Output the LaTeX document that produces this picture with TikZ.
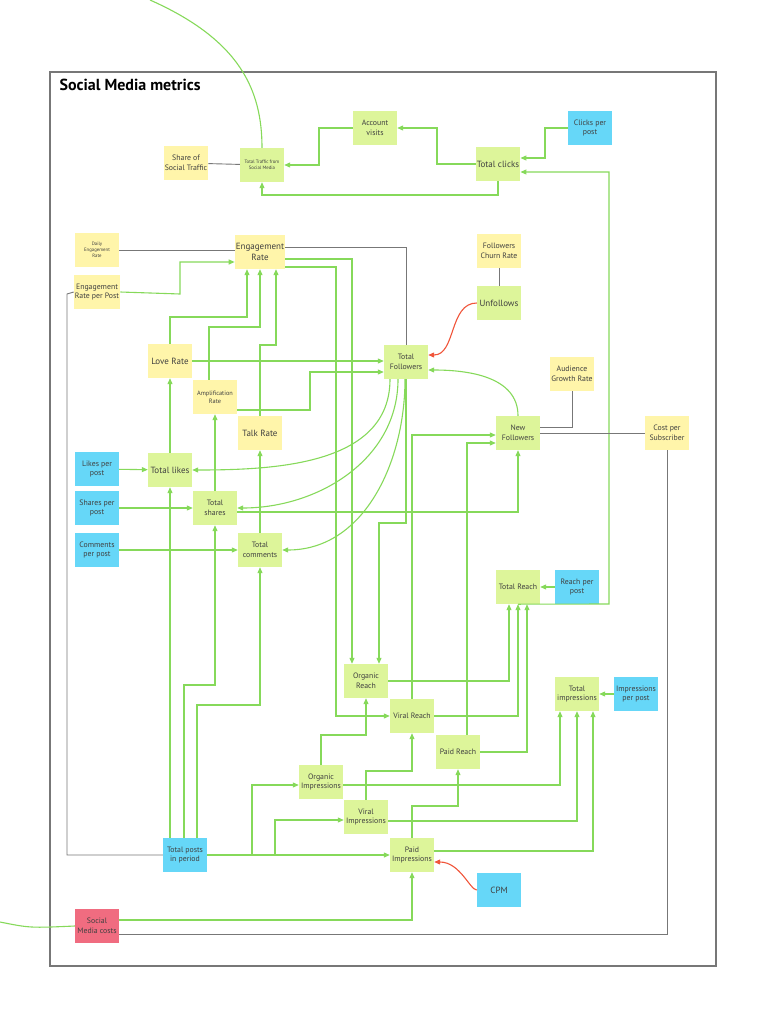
\documentclass[tikz,border=0pt]{standalone}
\usepackage{fontspec}
\setmainfont{PT Sans}
\usetikzlibrary{arrows.meta}
\definecolor{bg}{HTML}{DDF59A}
\definecolor{by}{HTML}{FFF5AA}
\definecolor{bb}{HTML}{66D7F8}
\definecolor{br}{HTML}{F06C80}
\definecolor{lg}{HTML}{86D95A}
\definecolor{lr}{HTML}{F0553A}
\definecolor{gl}{HTML}{777777}
\begin{document}
\begin{tikzpicture}[x=1pt,y=-1pt,
 box/.style={minimum width=44pt,minimum height=34pt,inner sep=1pt,align=center,font=\fontsize{7.8}{9.5}\selectfont,text=black!75},
 G/.style={box,fill=bg},Y/.style={box,fill=by},B/.style={box,fill=bb},R/.style={box,fill=br},
 big/.style={font=\fontsize{9}{11}\selectfont},
 tiny/.style={font=\fontsize{4.8}{6}\selectfont},
 g/.style={draw=lg,line width=1.1pt},
 ga/.style={g,-{Triangle[length=6pt,width=5pt]}},
 gr/.style={draw=gl,line width=0.9pt},
 ra/.style={draw=lr,line width=1.1pt,-{Triangle[length=6pt,width=5pt]}}]
\useasboundingbox (0,0) rectangle (768,1024);
\draw[gl,line width=1.2pt] (50,966) -- (50,72) -- (716,72) -- (716,966) -- cycle;
\node[anchor=west,font=\bfseries\fontsize{16}{18}\selectfont] (title) at (56,85) {Social Media metrics};
% nodes
\node[G] (av) at (375,128) {Account\\visits};
\node[B] (cpp) at (590,128) {Clicks per\\post};
\node[Y] (sst) at (186,163) {Share of\\Social Traffic};
\node[G,tiny] (ttf) at (262,165) {Total Traffic from\\Social Media};
\node[G,big] (tc) at (498,164) {Total clicks};
\node[Y,tiny] (der) at (97,250) {Daily\\Engagement\\Rate};
\node[Y,big] (er) at (260,252) {Engagement\\Rate};
\node[Y] (fcr) at (499,251) {Followers\\Churn Rate};
\node[Y] (erpp) at (97,292) {Engagement\\Rate per Post};
\node[G,big] (uf) at (499,303) {Unfollows};
\node[Y,big] (lvr) at (170,361) {Love Rate};
\node[G] (tf) at (406,362) {Total\\Followers};
\node[Y] (agr) at (572,374) {Audience\\Growth Rate};
\node[Y,font=\fontsize{6.3}{7.8}\selectfont] (ar) at (215,397) {Amplification\\Rate};
\node[Y,big] (talk) at (260,433) {Talk Rate};
\node[G] (nf) at (518,433) {New\\Followers};
\node[Y] (cps) at (667,433) {Cost per\\Subscriber};
\node[B] (lpp) at (97,469) {Likes per\\post};
\node[G,big] (tl) at (170,470) {Total likes};
\node[B] (spp) at (97,508) {Shares per\\post};
\node[G] (ts) at (215,508) {Total\\shares};
\node[B] (cmpp) at (97,550) {Comments\\per post};
\node[G] (tcm) at (260,550) {Total\\comments};
\node[G] (tr) at (518,587) {Total Reach};
\node[B] (rpp) at (577,587) {Reach per\\post};
\node[G] (or) at (366,681) {Organic\\Reach};
\node[G] (ti) at (577,694) {Total\\impressions};
\node[B] (ipp) at (636,694) {Impressions\\per post};
\node[G] (vr) at (412,716) {Viral Reach};
\node[G] (pr) at (458,752) {Paid Reach};
\node[G] (oi) at (321,782) {Organic\\Impressions};
\node[G] (vi) at (366,817) {Viral\\Impressions};
\node[B] (tpp) at (185,855) {Total posts\\in period};
\node[G] (pi) at (412,855) {Paid\\Impressions};
\node[B,big] (cpm) at (499,890) {CPM};
\node[R] (smc) at (97,926) {Social\\Media costs};
\coordinate (top) at (150,0);
\coordinate (left) at (0,922);
% top
\draw[ga] (cpp.west) -| (545,158) -- ([yshift=6pt]tc.east);
\draw[ga] (tc.west) -- (437,164) |- (av.east);
\draw[ga] (av.west) -- (319,128) |- (ttf.east);
\draw[ga] (tc.south) |- (262,195) -- (ttf.south);
\draw[ga] (tr.south) -- (609,604) |- ([yshift=-8pt]tc.east);
\draw[gr] (sst) -- (ttf);
\draw[g] (top) .. controls (240,40) and (262,90) .. (ttf.north);
\draw[g] (left) .. controls (30,928) .. (smc.west);
% engagement
\draw[gr] (der.east) -- (der.east -| er.west);
\draw[ga] (erpp.east) -- (180,294) |- ([yshift=-10pt]er.west);
\draw[gr] (erpp.west) -- (67,294) |- (tpp.west);
\draw[gr] ([yshift=5pt]er.east) -| (tf.north);
\draw[ga] ([yshift=-7pt]er.east) -| ([xshift=-14pt]or.north);
\draw[ga] ([yshift=-15pt]er.east) -- (336,267) |- (vr.west);
\draw[ga] (lvr.north) |- (247,317) -- ([xshift=-13pt]er.south);
\draw[ga] ([xshift=-6pt]ar.north) |- (260,327) -- (er.south);
\draw[ga] (talk.north) |- (276,345) -- ([xshift=16pt]er.south);
\draw[ga] (lvr.east) -- (lvr.east -| tf.west);
\draw[ga] ([yshift=-13pt]ar.east) -- (310,410) |- ([yshift=-10pt]tf.west);
\draw[ga] (tl) -- (lvr);
\draw[ga] (ts) -- (ar);
\draw[ga] (tcm) -- (talk);
\draw[ga] (lpp) -- (tl);
\draw[ga] (spp) -- (ts);
\draw[ga] (cmpp) -- (tcm);
% followers
\draw[ga] ([xshift=-16pt]tf.south) to[out=-90,in=0] (tl.east);
\draw[ga] ([xshift=-8pt]tf.south) to[out=-90,in=0] (ts.east);
\draw[ga] ([xshift=-1pt]tf.south) to[out=-90,in=0] (tcm.east);
\draw[ga] (tf.south) -- (406,523) -| ([xshift=13pt]or.north);
\draw[ra] (uf.west) to[out=180,in=0] ([yshift=7pt]tf.east);
\draw[ga] (nf.north) to[out=90,in=0] ([yshift=-8pt]tf.east);
\draw[gr] (fcr) -- (uf);
\draw[gr] (agr.south) |- ([yshift=6pt]nf.east);
\draw[gr] (nf.east) -- (nf.east -| cps.west);
\draw[gr] (cps.south) |- ([yshift=-8pt]smc.east);
\draw[ga] (vr.north) |- ([yshift=-2pt]nf.west);
\draw[ga] ([xshift=9pt]pr.north) |- ([yshift=-10pt]nf.west);
\draw[ga] ([yshift=-4pt]ts.east) -| (nf.south);
% reach & impressions
\draw[ga] (rpp) -- (tr);
\draw[ga] (ipp) -- (ti);
\draw[ga] (or.east) -| ([xshift=-9pt]tr.south);
\draw[ga] (vr.east) -| (tr.south);
\draw[ga] (pr.east) -| ([xshift=9pt]tr.south);
\draw[ga] (oi.north) |- (366,735) -- (or.south);
\draw[ga] ([yshift=-3pt]oi.east) -| ([xshift=-17pt]ti.south);
\draw[ga] (vi.north) |- (412,771) -- (vr.south);
\draw[ga] ([yshift=-4pt]vi.east) -| (ti.south);
\draw[ga] (pi.north) |- (458,806) -- (pr.south);
\draw[ga] ([yshift=4pt]pi.east) -| ([xshift=16pt]ti.south);
% posts
\draw[ga] ([xshift=-15pt]tpp.north) -- ([xshift=-15pt]tpp.north |- tl.south);
\draw[ga] ([xshift=-1pt]tpp.north) |- (215,685) -- (ts.south);
\draw[ga] ([xshift=12pt]tpp.north) |- (260,705) -- (tcm.south);
\draw[ga] (tpp.east) -- (252,855) |- ([yshift=-3pt]oi.west);
\draw[ga] (275,855) |- ([yshift=-3pt]vi.west);
\draw[ga] (tpp.east) -- (pi.west);
\draw[ga] ([yshift=6pt]smc.east) -| (pi.south);
\draw[ra] (cpm.west) .. controls (470,890) and (460,862) .. ([yshift=-7pt]pi.east);
\end{tikzpicture}
\end{document}
